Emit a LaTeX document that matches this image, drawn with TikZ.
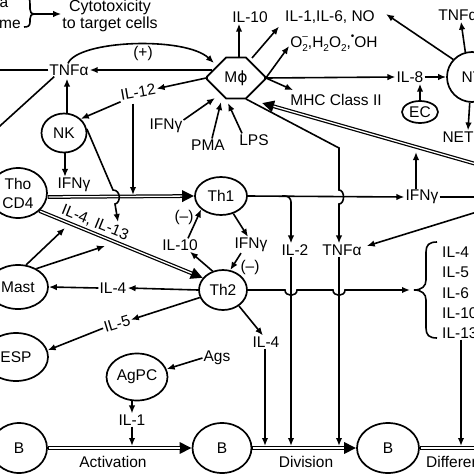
\documentclass[tikz,border=0pt]{standalone}
\usepackage{fontspec}
\setmainfont{Liberation Sans}
\newfontfamily\dejavu{DejaVu Sans}
\usetikzlibrary{arrows.meta,shapes.geometric,shapes.misc,calc}
\newcommand\mysup[1]{\raisebox{0.5em}{\fontsize{10}{10}\selectfont #1}}
\newcommand\mysub[1]{\raisebox{-0.25em}{\fontsize{10}{10}\selectfont #1}}
\newcommand\dblarr[2]{\draw[line width=3.8pt,-{Triangle[length=12pt,width=11pt]}] #1 -- #2;
  \draw[white,line width=1.3pt,shorten >=12pt,shorten <=0.8pt] #1 -- #2;}
\newcommand\dblline[2]{\draw[line width=3.8pt] #1 -- #2;
  \draw[white,line width=1.3pt,shorten <=0.8pt] #1 -- #2;}
\begin{document}
\begin{tikzpicture}[x=1pt,y=-1pt,
  every node/.style={font=\fontsize{15.5}{17}\selectfont, inner sep=1pt},
  ln/.style={line width=1.6pt},
  arr/.style={ln,-{Latex[length=8pt,width=6.5pt]}},
  ell/.style={ellipse,draw,line width=1.7pt,inner sep=0pt},
]
\clip (0,0) rectangle (474,474);

% ---------- nodes ----------
\node (ta) at (4,3) {a};
\node (me) at (10,24) {me};
\node[align=center,font=\fontsize{16}{17}\selectfont] (cyto) at (110,16) {Cytotoxicity\\to target cells};
\node (TNFa) at (69,70) {TNFα};
\node (plus) at (143,53) {(+)};
\node[draw,line width=1.7pt,chamfered rectangle,chamfered rectangle xsep=13pt,
      chamfered rectangle ysep=20.4pt,minimum width=58pt,minimum height=41pt,inner sep=0pt]
      (M) at (236,78) {M{\dejavu ϕ}};
\node (ILten) at (250,17) {IL-10};
\node (ILone) at (330,17) {IL-1,IL-6, NO};
\node (Otwo) at (334,43) {O\rlap{\mysup{–}}\mysub{2},H\mysub{2}O\mysub{2},\mysup{•}OH};
\node (MHC) at (336,100) {MHC Class II};
\node (ILeight) at (410,77) {IL-8};
\node[circle,draw,line width=1.7pt,minimum size=50pt,inner sep=0pt] (NT) at (472,77) {NT};
\node[ell,minimum width=36pt,minimum height=22pt] (EC) at (420,112) {EC};
\node (TNFb) at (458,15) {TNFα};
\node (NET) at (458,137) {NET};
\node[rotate=10] (ILtw) at (138,92) {IL-12};
\node[ell,minimum width=45pt,minimum height=39pt] (NK) at (64,133) {NK};
\node (IFNa) at (166,126) {IFNγ};
\node (PMA) at (208,145) {PMA};
\node (LPS) at (254,140) {LPS};
\node[ell,minimum width=58pt,minimum height=50pt,align=center,font=\fontsize{15.5}{19}\selectfont] (Tho) at (18,193) {Tho\\CD4};
\node (IFNb) at (74,185) {IFNγ};
\node[ell,minimum width=52pt,minimum height=38pt] (Th1) at (221,196) {Th1};
\node[rotate=-22] (IL413) at (95,223) {IL-4, IL-13};
\node (ILtenb) at (180,245) {IL-10};
\node (mina) at (184,217) {(–)};
\node (IFNc) at (251,245) {IFNγ};
\node (minb) at (250,267) {(–)};
\node (ILtwo) at (295,250) {IL-2};
\node (TNFc) at (342,250) {TNFα};
\node (IFNd) at (422,197) {IFNγ};
\node[ell,minimum width=60pt,minimum height=44pt] (Mast) at (18,287) {Mast};
\node (ILfoura) at (113,288) {IL-4};
\node[ell,minimum width=48pt,minimum height=40pt] (Th2) at (223,290) {Th2};
\node[rotate=17] (ILfive) at (117,324) {IL-5};
\node[ell,minimum width=64pt,minimum height=48pt] (ESP) at (16,357) {ESP};
\node (ILfourb) at (266,342) {IL-4};
\node[anchor=west] (Lfour) at (441,252) {IL-4};
\node[anchor=west] (Lfive) at (441,272) {IL-5};
\node[anchor=west] (Lsix) at (441,293) {IL-6};
\node[anchor=west] (Lten) at (441,313) {IL-10};
\node[anchor=west] (Lthirteen) at (441,333) {IL-13};
\node[ell,minimum width=61pt,minimum height=47pt] (AgPC) at (137,377) {AgPC};
\node (Ags) at (217,358) {Ags};
\node (ILoneb) at (132,420) {IL-1};
\node[ell,minimum width=56pt,minimum height=50pt] (B1) at (19,448) {B};
\node[ell,minimum width=59pt,minimum height=50pt] (B2) at (222,448) {B};
\node[ell,minimum width=62pt,minimum height=50pt] (B3) at (388,448) {B};
\node (act) at (113,462) {Activation};
\node (div) at (306,462) {Division};
\node[anchor=west] (dif) at (425,462) {Differentiation};

% ---------- coordinates ----------
\coordinate (Mt) at ($(M.center)+(3,-20)$);
\coordinate (Mtr) at ($(M.center)+(16,-20)$);
\coordinate (Mtl) at ($(M.center)+(-24,-8)$);
\coordinate (Mtl2) at ($(M.center)+(-22,-15)$);
\coordinate (Mbl1) at ($(M.center)+(-21,20)$);
\coordinate (Mbl2) at ($(M.center)+(-15,24)$);
\coordinate (Mbl3) at ($(M.center)+(-8,25)$);
\coordinate (Mb) at ($(M.center)+(10,21)$);
\coordinate (Mdb) at ($(M.center)+(26,25)$);
\coordinate (offL1) at (-5,70);
\coordinate (offL2) at (-10,135);
\coordinate (offR1) at (480,197);
\coordinate (offR2) at (480,211);
\coordinate (offR3) at (490,168);
\coordinate (offR4) at (480,448);
\coordinate (braceA) at (35,14);
\coordinate (braceB) at (414,290);
\coordinate (vtw) at (133,195);
\coordinate (nkt) at (118,222);
\coordinate (ifnup) at (416,152);
\coordinate (ma) at (65,228);
\coordinate (mb) at (105,246);
\coordinate (v1) at (132,446);
\coordinate (v2) at (291,446);
\coordinate (v3) at (339,446);
\coordinate (v4) at (265,446);
\coordinate (v13) at (461,446);

% ---------- double lines ----------
\dblarr{([yshift=-4pt]Tho.east)}{(Th1.west)}
\dblarr{(Tho.-40)}{(Th2.149)}
\dblarr{(offR3)}{(Mdb)}
\dblarr{(B1)}{(B2)}
\dblarr{(B2)}{(B3)}
\dblline{(B3)}{(offR4)}

% ---------- top-left brace ----------
\draw[ln] (24,-4) .. controls (29,-4) and (30,-1) .. (30,4) -- (30,9)
  .. controls (30,12) and (31,14) .. (braceA) .. controls (31,14) and (30,16) .. (30,19)
  -- (30,22) .. controls (30,26) and (28,27) .. (24,27);
\draw[arr] (braceA) -- (cyto.west |- braceA);

% ---------- list brace ----------
\draw[ln] (437,242) .. controls (429,242) and (426,245) .. (426,252) -- (426,280)
  .. controls (426,286) and (422,290) .. (braceB) .. controls (422,290) and (426,294) .. (426,300)
  -- (426,328) .. controls (426,335) and (429,338) .. (437,338);

% ---------- connectors ----------
\draw[ln] (TNFa.west) -- (offL1);
\draw[ln] ([xshift=6pt]TNFa.south west) -- (offL2);
\draw[arr] (Mtl) -- (TNFa.east);
\draw[arr] ([xshift=-1pt]TNFa.north) .. controls (78,40) and (185,36) .. (Mtl2);
\draw[arr] (M.west) -- (ILtw.east);
\draw[arr] (ILtw.south west) -- (NK.40);
\draw[arr,shorten <=5pt] (ILtw.south -| vtw) -- (vtw);
\draw[arr,shorten >=2pt] ([xshift=3pt]NK.north) -- ([xshift=3pt]NK.north |- TNFa.south);
\draw[arr] ([xshift=1pt]NK.south) -- ([xshift=1pt]NK.south |- IFNb.north);
\draw[arr] (NK.10) -- (113,190) .. controls (121,190) and (121,203) .. (115,204) -- (nkt);
\draw[arr] ([yshift=6pt]IFNa.east) -- (Mbl1);
\draw[arr] ([xshift=4pt]PMA.north) -- (Mbl2);
\draw[arr] ([xshift=-12pt]LPS.north) -- (Mbl3);
\draw[arr] (Mt) -- (Mt |- ILten.south);
\draw[arr] (Mtr) -- ([xshift=-5pt,yshift=-2pt]ILone.south west);
\draw[arr] (M.east) -- ([yshift=-3pt]Otwo.west);
\draw[arr] (M.east) -- (ILeight.west);
\draw[arr] (M.east) -- ([xshift=4pt,yshift=3pt]MHC.north west);
\draw[arr] (ILeight.east) -- (NT.west);
\draw[arr] (EC.north) -- (EC.north |- ILeight.south);
\draw[arr] (NT.137) -- ([xshift=10pt,yshift=3pt]ILone.east);
\draw[arr] (NT.105) -- ([xshift=3pt]TNFb.south);
\draw[arr] (NT.-95) -- ([xshift=10pt]NET.north);
\draw[arr] (Mb) -- (339,148) -- (339,190) .. controls (345,190) and (345,204) .. (339,204) -- (TNFc.north -| v3);
\draw[arr] (Th1.east) -- (IFNd.west);
\draw[arr,rounded corners=6pt] (282,196) -| (ILtwo.north -| v2);
\draw[ln] (IFNd.east) -- (offR1);
\draw[arr] ([xshift=-6pt]IFNd.north) -- (ifnup);
\draw[arr] (offR2) -- ([xshift=4pt,yshift=4pt]TNFc.east);
\draw[arr] (Th2.east) -- (285,290) .. controls (285,297) and (297,297) .. (297,290)
  -- (333,290) .. controls (333,297) and (345,297) .. (345,290) -- ([xshift=-4pt]braceB);
\draw[arr] (Th2.119) -- ([xshift=10pt]ILtenb.south);
\draw[arr] ([xshift=8pt]ILtenb.north) -- (Th1.214);
\draw[arr] (Th1.-55) -- ([xshift=-3pt]IFNc.north);
\draw[arr] ([xshift=-10pt]IFNc.south) -- (Th2.70);
\draw[arr] (Th2.west) -- (ILfoura.east);
\draw[arr] (ILfoura.west) -- (Mast.east);
\draw[arr] (Th2.198) -- (ILfive.east);
\draw[arr] (ILfive.west) -- (ESP.12);
\draw[arr] (Th2.-45) -- ([xshift=-3pt]ILfourb.north);
\draw[arr] (ILfourb.south -| v4) -- (v4);
\draw[arr] (ILtwo.south -| v2) -- (v2);
\draw[arr] (TNFc.south -| v3) -- (v3);
\draw[arr] (Lthirteen.south -| v13) -- (v13);
\draw[arr] (Ags.west) -- (AgPC.15);
\draw[arr] ([xshift=-5pt]AgPC.south) -- ([xshift=-5pt]AgPC.south |- ILoneb.north);
\draw[arr] (ILoneb.south) -- (ILoneb.south |- v1);
\draw[arr] (Mast.70) -- (ma);
\draw[arr] (Mast.45) -- (mb);
\end{tikzpicture}
\end{document}
